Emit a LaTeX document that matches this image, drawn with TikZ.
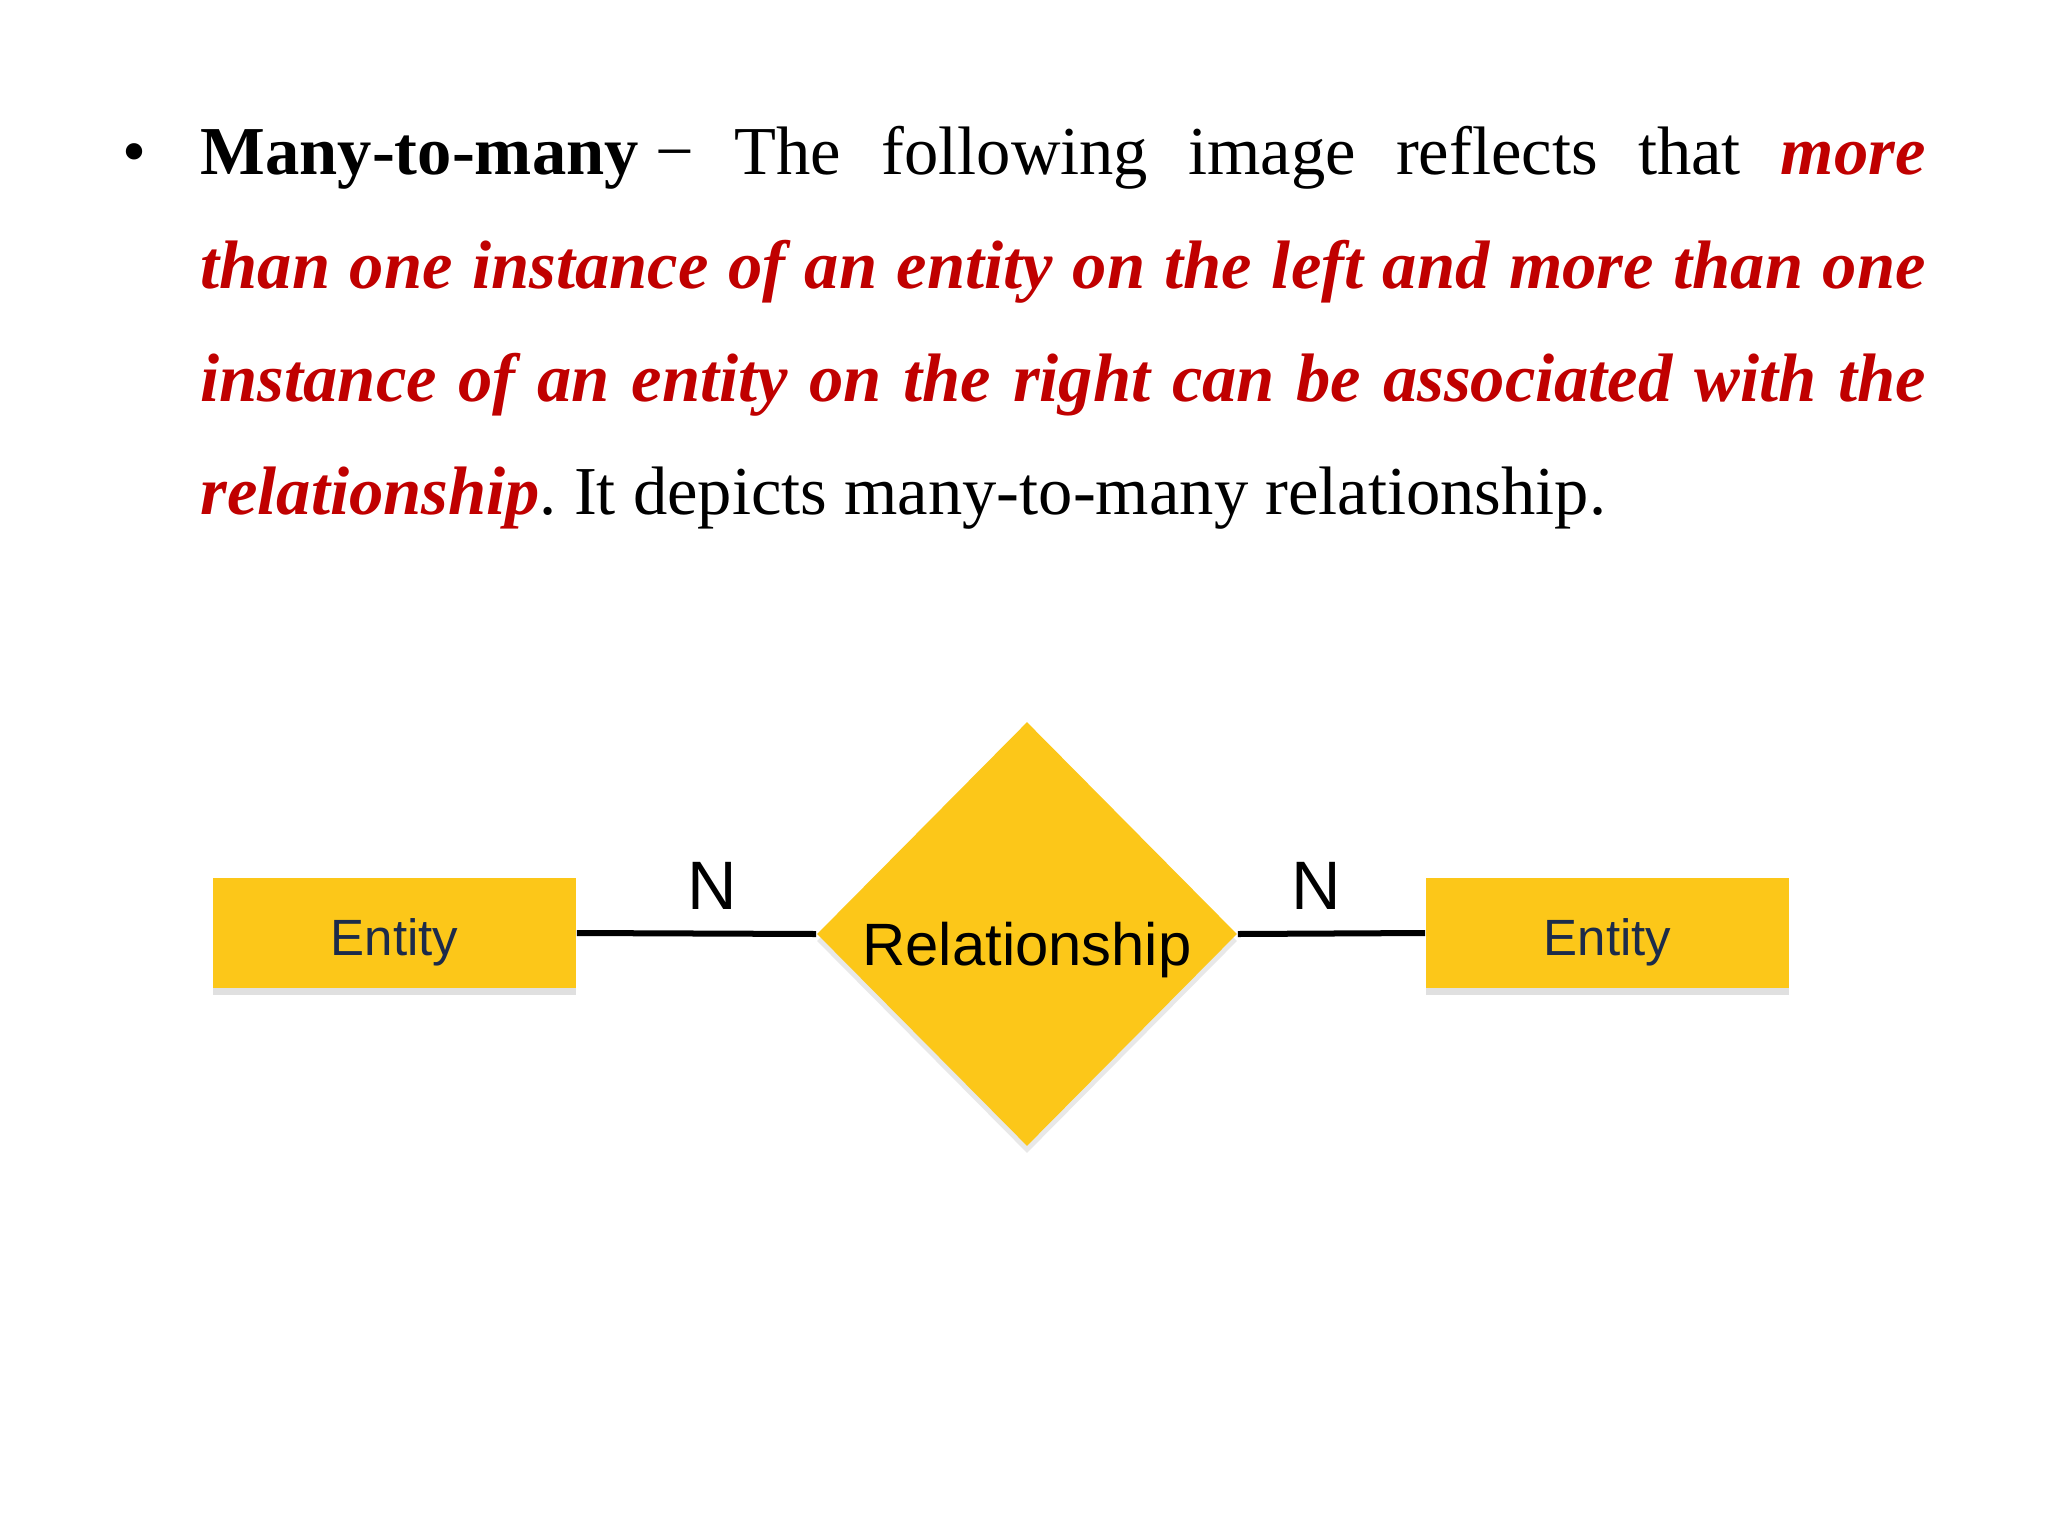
\documentclass[tikz,border=0pt]{standalone}
\usepackage{fontspec}
\setmainfont{Liberation Serif}
\newfontfamily\arialf{Liberation Sans}
\usetikzlibrary{shapes.geometric,shadows}
\definecolor{erYellow}{HTML}{FCC719}
\definecolor{erRed}{HTML}{C00000}
\definecolor{erNavy}{HTML}{1C2B4A}
\tikzset{
  entitybox/.style={fill=erYellow, minimum width=3.63cm, minimum height=1.09cm, inner sep=0pt,
    font=\arialf\fontsize{14.5}{17}\selectfont, text=erNavy, text height=13pt, text depth=0pt,
    drop shadow={shadow xshift=0pt, shadow yshift=-2pt, opacity=0.2, fill=black!60}},
  relbox/.style={diamond, fill=erYellow, minimum width=4.2cm, minimum height=4.24cm, inner sep=0pt,
    font=\arialf\fontsize{17}{20}\selectfont, text=black, text height=18pt, text depth=0pt,
    drop shadow={shadow xshift=0pt, shadow yshift=-2pt, opacity=0.15, fill=black!60}},
  cardlabel/.style={font=\arialf\fontsize{19.5}{22}\selectfont, inner sep=0pt},
  connector/.style={line width=0.06cm, draw=black}
}
\begin{document}
\begin{tikzpicture}[x=0.01cm,y=-0.01cm]
\useasboundingbox[fill=white] (0,0) rectangle (2048,1536);
\node[anchor=base, font=\fontsize{19.5}{32.2}\selectfont, inner sep=0pt] (bullet) at (135,174) {•};
\node[anchor=north west, text width=17.24cm, align=justify, inner sep=0pt,
      font=\fontsize{19.5}{32.2}\selectfont] (para) at (200,126)
{\frenchspacing{\bfseries Many-to-many}\kern0.25em− The following image reflects that {\color{erRed}\bfseries\itshape more\linebreak than one instance of an entity on the left and more than one\linebreak instance of an entity on the right can be associated with the\linebreak relationship}. It depicts many-to-many relationship.};
\node[entitybox] (e1) at (394.5,933) {Entity};
\node[entitybox] (e2) at (1607.5,933) {Entity};
\node[relbox] (r) at (1027,934) {Relationship};
\draw[connector] (e1.east) -- (r.west);
\draw[connector] (r.east) -- (e2.west);
\node[cardlabel] (n1) at (712,886) {N};
\node[cardlabel] (n2) at (1316,886) {N};
\end{tikzpicture}
\end{document}
